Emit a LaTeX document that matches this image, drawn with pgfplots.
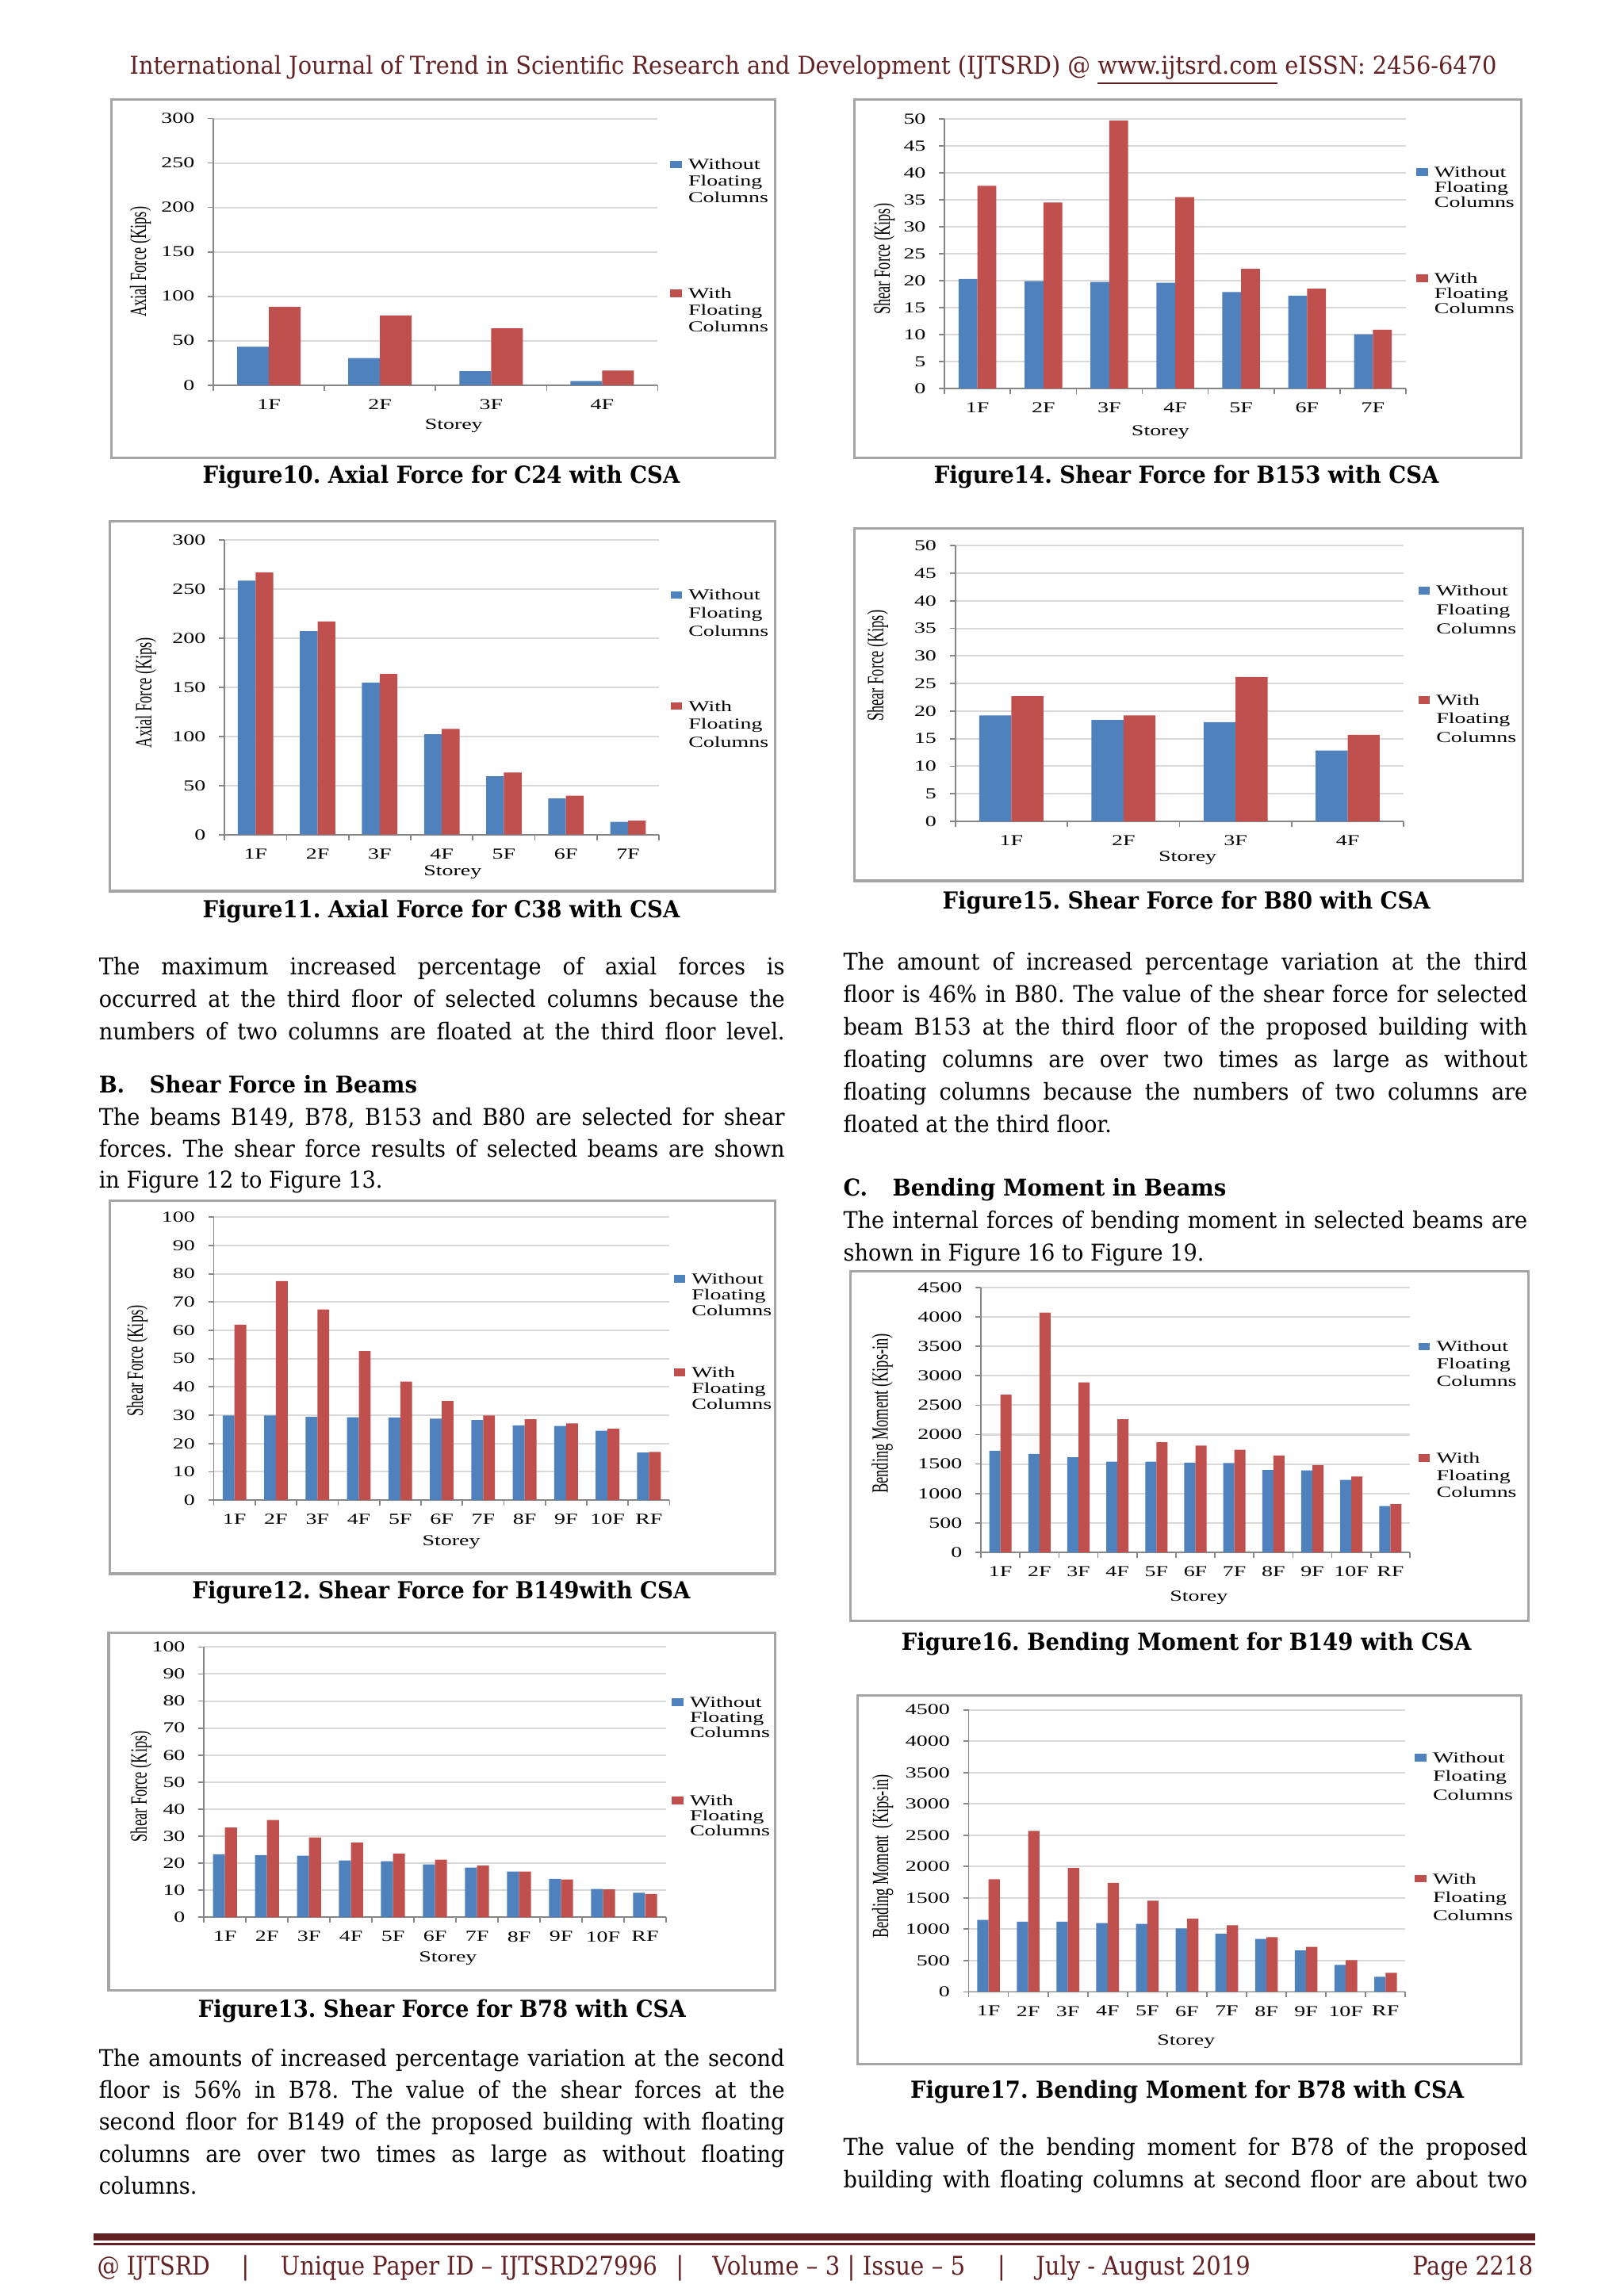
\documentclass[border=0pt]{standalone}
\usepackage{fontspec}
\setmainfont{DejaVu Serif}[FakeStretch=0.93]
\newfontfamily\chartfont[FakeStretch=1.45]{Liberation Serif}
\newfontfamily\ylabfont[FakeStretch=0.63]{Liberation Serif}
\usepackage{graphicx}
\usepackage{pgfplots}
\pgfplotsset{compat=1.18}
\frenchspacing

\definecolor{barblue}{RGB}{79,129,189}
\definecolor{barred}{RGB}{192,80,77}
\definecolor{gridgray}{RGB}{217,217,217}
\definecolor{axisgray}{RGB}{134,134,134}
\definecolor{framegray}{RGB}{165,165,165}
\definecolor{maroon}{RGB}{99,33,36}

\newcommand\bodyfont{\fontsize{8.5}{11.9}\selectfont}
\newcommand\capfont{\bfseries\fontsize{8.6}{10}\selectfont}
\newcommand\cfont{\chartfont\fontsize{5.6}{6.5}\selectfont}
\newlength\colL \setlength\colL{251.4pt}
\newlength\colR \setlength\colR{250.8pt}
\newcommand\lj[1]{\makebox[\colL][s]{#1}}
\newcommand\rj[1]{\makebox[\colR][s]{#1}}
\newcommand\legtxt[4]{\vtop{\baselineskip=#1\hbox{#2}\hbox{#3}\hbox{#4}}}

\pgfplotsset{
  fc/.style={
    scale only axis, ybar, ymin=0, xmin=0.5,
    axis x line*=bottom, axis y line*=left,
    x axis line style={draw=axisgray, line width=0.5pt, -},
    y axis line style={draw=axisgray, line width=0.5pt, -},
    ymajorgrids, major grid style={draw=gridgray, line width=0.6pt},
    tick align=outside, major tick length=2pt, minor tick length=2pt,
    tick style={draw=axisgray, line width=0.5pt},
    major x tick style={draw=none},
    ticklabel style={font=\cfont, inner sep=0pt},
    yticklabel style={/pgf/number format/1000 sep={}, /pgf/number format/assume math mode=true},
    xticklabel shift=3.0pt, yticklabel shift=4.7pt,
    xlabel={Storey},
    xlabel style={font=\cfont, anchor=center},
    ylabel style={font=\ylabfont\fontsize{8.5}{9.5}\selectfont, anchor=center},
    legend style={draw=none, fill=none, inner sep=0pt, outer sep=0pt,
      anchor=north west, column sep=2.4pt, font=\cfont,
      nodes={inner sep=0pt, anchor=base west}, cells={anchor=base west}},
  },
  bblue/.style={fill=barblue, draw=none, bar width=0.2857, bar shift=-0.1429,
    legend image code/.code={\fill[barblue] (0pt,0.5pt) rectangle (4.2pt,3.3pt);}},
  bred/.style={fill=barred, draw=none, bar width=0.2857, bar shift=0.1429,
    legend image code/.code={\fill[barred] (0pt,0.5pt) rectangle (4.2pt,3.3pt);}},
}

\begin{document}
\begin{tikzpicture}[x=0.53823pt, y=-0.53823pt]
\path[use as bounding box] (0,0) rectangle (1106,1564);
\fill[white] (0,0) rectangle (1106,1564);

% header
\node[anchor=base, inner sep=0pt, text=maroon, font=\fontsize{9}{10}\selectfont] at (553.9,50.4)
  {\resizebox{501.1pt}{\height}{International Journal of Trend in Scientific Research and Development (IJTSRD) @ \underline{www.ijtsrd.com} eISSN: 2456-6470}};

% chart frames
\begin{scope}[draw=framegray, line width=0.9pt]
\draw (76,68) rectangle (528,312);
\draw (582,68) rectangle (1036,312);
\draw (75,355) rectangle (528,607);
\draw (582,360) rectangle (1037,600);
\draw (75,818) rectangle (528,1072);
\draw (579,866) rectangle (1041,1104);
\draw (74,1112) rectangle (528,1356);
\draw (584,1155) rectangle (1036,1406);
\end{scope}

\coordinate (A10) at (145.3,262.3);
\coordinate (A14) at (643.3,264.6);
\coordinate (A11) at (152.9,568.5);
\coordinate (A15) at (650.6,559.5);
\coordinate (A12) at (145.6,1021.8);
\coordinate (A16) at (668.1,1057.4);
\coordinate (A13) at (138.9,1306.0);
\coordinate (A17) at (659.7,1356.8);

% Figure 10
\begin{axis}[fc, at={(A10)}, anchor=south west, width=162.9pt, height=97.7pt,
  xmax=4.5, xtick={1,...,4}, xticklabels={1F,2F,3F,4F}, minor xtick={0.5,1.5,...,4.5},
  ymax=300, ytick={0,50,...,300}, ylabel={Axial Force (Kips)},
  xlabel style={at={(axis description cs:0.541,-0.154)}},
  ylabel style={at={(axis description cs:-0.164,0.462)}},
  legend style={at={(1.0284,0.8484)}, row sep={47.3pt,between origins}}]
\addplot[bblue] coordinates {(1,43.2) (2,30.4) (3,15.8) (4,4.5)};
\addlegendentry{\legtxt{6.1pt}{Without}{Floating}{Columns}}
\addplot[bred] coordinates {(1,87.9) (2,78.3) (3,64.0) (4,16.4)};
\addlegendentry{\legtxt{6.1pt}{With}{Floating}{Columns}}
\end{axis}

% Figure 14
\begin{axis}[fc, at={(A14)}, anchor=south west, width=169.1pt, height=98.8pt,
  xmax=7.5, xtick={1,...,7}, xticklabels={1F,2F,3F,4F,5F,6F,7F}, minor xtick={0.5,1.5,...,7.5},
  ymax=50, ytick={0,5,...,50}, ylabel={Shear Force (Kips)},
  xlabel style={at={(axis description cs:0.468,-0.162)}},
  ylabel style={at={(axis description cs:-0.131,0.480)}},
  legend style={at={(1.0229,0.8234)}, row sep={38.9pt,between origins}}]
\addplot[bblue] coordinates {(1,20.3) (2,19.9) (3,19.75) (4,19.6) (5,17.9) (6,17.2) (7,10.05)};
\addlegendentry{\legtxt{5.6pt}{Without}{Floating}{Columns}}
\addplot[bred] coordinates {(1,37.6) (2,34.5) (3,49.7) (4,35.5) (5,22.2) (6,18.5) (7,10.9)};
\addlegendentry{\legtxt{5.6pt}{With}{Floating}{Columns}}
\end{axis}

% Figure 11
\begin{axis}[fc, at={(A11)}, anchor=south west, width=159.3pt, height=108.1pt,
  xmax=7.5, xtick={1,...,7}, xticklabels={1F,2F,3F,4F,5F,6F,7F}, minor xtick={0.5,1.5,...,7.5},
  ymax=300, ytick={0,50,...,300}, ylabel={Axial Force (Kips)},
  xlabel style={at={(axis description cs:0.525,-0.127)}},
  ylabel style={at={(axis description cs:-0.181,0.482)}},
  legend style={at={(1.0264,0.8311)}, row sep={40.7pt,between origins}}]
\addplot[bblue] coordinates {(1,258.3) (2,207.0) (3,154.6) (4,102.2) (5,59.4) (6,36.8) (7,12.9)};
\addlegendentry{\legtxt{6.6pt}{Without}{Floating}{Columns}}
\addplot[bred] coordinates {(1,266.7) (2,216.9) (3,163.4) (4,107.5) (5,63.2) (6,39.5) (7,14.2)};
\addlegendentry{\legtxt{6.6pt}{With}{Floating}{Columns}}
\end{axis}

% Figure 15
\begin{axis}[fc, at={(A15)}, anchor=south west, width=164.4pt, height=101.1pt,
  xmax=4.5, xtick={1,...,4}, xticklabels={1F,2F,3F,4F}, minor xtick={0.5,1.5,...,4.5},
  ymax=50, ytick={0,5,...,50}, ylabel={Shear Force (Kips)},
  xlabel style={at={(axis description cs:0.518,-0.134)}},
  ylabel style={at={(axis description cs:-0.173,0.564)}},
  legend style={at={(1.0324,0.8561)}, row sep={40.0pt,between origins}}]
\addplot[bblue] coordinates {(1,19.2) (2,18.4) (3,18.0) (4,12.85)};
\addlegendentry{\legtxt{6.9pt}{Without}{Floating}{Columns}}
\addplot[bred] coordinates {(1,22.7) (2,19.2) (3,26.2) (4,15.7)};
\addlegendentry{\legtxt{6.9pt}{With}{Floating}{Columns}}
\end{axis}

% Figure 12
\begin{axis}[fc, at={(A12)}, anchor=south west, width=167.1pt, height=103.7pt,
  xmax=11.5, xtick={1,...,11}, xticklabels={1F,2F,3F,4F,5F,6F,7F,8F,9F,10F,RF}, minor xtick={0.5,1.5,...,11.5},
  ymax=100, ytick={0,10,...,100}, ylabel={Shear Force (Kips)},
  xlabel style={at={(axis description cs:0.521,-0.148)}},
  ylabel style={at={(axis description cs:-0.168,0.492)}},
  legend style={at={(1.0090,0.8020)}, row sep={34.4pt,between origins}}]
\addplot[bblue] coordinates {(1,29.9) (2,29.9) (3,29.4) (4,29.25) (5,29.2) (6,28.8) (7,28.3) (8,26.4) (9,26.2) (10,24.5) (11,16.8)};
\addlegendentry{\legtxt{5.8pt}{Without}{Floating}{Columns}}
\addplot[bred] coordinates {(1,62.0) (2,77.4) (3,67.4) (4,52.7) (5,41.9) (6,35.0) (7,29.9) (8,28.6) (9,27.1) (10,25.2) (11,17.0)};
\addlegendentry{\legtxt{5.8pt}{With}{Floating}{Columns}}
\end{axis}

% Figure 16
\begin{axis}[fc, at={(A16)}, anchor=south west, width=157.2pt, height=97.1pt,
  xmax=11.5, xtick={1,...,11}, xticklabels={1F,2F,3F,4F,5F,6F,7F,8F,9F,10F,RF}, minor xtick={0.5,1.5,...,11.5},
  ymax=4500, ytick={0,500,...,4500}, ylabel={Bending Moment (Kips-in)},
  xlabel style={at={(axis description cs:0.508,-0.170)}},
  ylabel style={at={(axis description cs:-0.230,0.524)}},
  legend style={at={(1.0205,0.7976)}, row sep={40.8pt,between origins}}]
\addplot[bblue] coordinates {(1,1727) (2,1673) (3,1615) (4,1539) (5,1539) (6,1525) (7,1516) (8,1400) (9,1391) (10,1229) (11,785)};
\addlegendentry{\legtxt{6.35pt}{Without}{Floating}{Columns}}
\addplot[bred] coordinates {(1,2678) (2,4074) (3,2889) (4,2261) (5,1871) (6,1812) (7,1741) (8,1646) (9,1480) (10,1288) (11,821)};
\addlegendentry{\legtxt{6.35pt}{With}{Floating}{Columns}}
\end{axis}

% Figure 13
\begin{axis}[fc, at={(A13)}, anchor=south west, width=169.4pt, height=99.1pt,
  xmax=11.5, xtick={1,...,11}, xticklabels={1F,2F,3F,4F,5F,6F,7F,8F,9F,10F,RF}, minor xtick={0.5,1.5,...,11.5},
  ymax=100, ytick={0,10,...,100}, ylabel={Shear Force (Kips)},
  xlabel style={at={(axis description cs:0.528,-0.152)}},
  ylabel style={at={(axis description cs:-0.136,0.484)}},
  legend style={at={(1.0127,0.8162)}, row sep={36.1pt,between origins}}]
\addplot[bblue] coordinates {(1,23.3) (2,23.0) (3,22.8) (4,21.0) (5,20.7) (6,19.55) (7,18.4) (8,16.9) (9,14.2) (10,10.5) (11,9.1)};
\addlegendentry{\legtxt{5.5pt}{Without}{Floating}{Columns}}
\addplot[bred] coordinates {(1,33.2) (2,36.0) (3,29.5) (4,27.6) (5,23.5) (6,21.3) (7,19.1) (8,16.9) (9,14.0) (10,10.3) (11,8.6)};
\addlegendentry{\legtxt{5.5pt}{With}{Floating}{Columns}}
\end{axis}

% Figure 17
\begin{axis}[fc, at={(A17)}, anchor=south west, width=160.1pt, height=103.4pt,
  xmax=11.5, xtick={1,...,11}, xticklabels={1F,2F,3F,4F,5F,6F,7F,8F,9F,10F,RF}, minor xtick={0.5,1.5,...,11.5},
  ymax=4500, ytick={0,500,...,4500}, ylabel={Bending Moment\ \ (Kips-in)},
  xlabel style={at={(axis description cs:0.498,-0.176)}},
  ylabel style={at={(axis description cs:-0.197,0.480)}},
  legend style={at={(1.0218,0.8494)}, row sep={44.3pt,between origins}}]
\addplot[bblue] coordinates {(1,1147) (2,1118) (3,1118) (4,1097) (5,1084) (6,1012) (7,928) (8,844) (9,662) (10,430) (11,240)};
\addlegendentry{\legtxt{6.8pt}{Without}{Floating}{Columns}}
\addplot[bred] coordinates {(1,1797) (2,2569) (3,1978) (4,1738) (5,1455) (6,1168) (7,1063) (8,873) (9,717) (10,506) (11,304)};
\addlegendentry{\legtxt{6.8pt}{With}{Floating}{Columns}}
\end{axis}

% captions
\begin{scope}[every node/.style={anchor=base, inner sep=0pt, font=\capfont}]
\node at (300.5,329) {\resizebox{174.9pt}{\height}{Figure10. Axial Force for C24 with CSA}};
\node at (808,329) {\resizebox{185.1pt}{\height}{Figure14. Shear Force for B153 with CSA}};
\node at (300.5,625) {\resizebox{174.9pt}{\height}{Figure11. Axial Force for C38 with CSA}};
\node at (808,619) {\resizebox{178.7pt}{\height}{Figure15. Shear Force for B80 with CSA}};
\node at (300.5,1089) {\resizebox{182.5pt}{\height}{Figure12. Shear Force for B149with CSA}};
\node at (808,1124) {\resizebox{208.8pt}{\height}{Figure16. Bending Moment for B149 with CSA}};
\node at (301,1374) {\resizebox{178.7pt}{\height}{Figure13. Shear Force for B78 with CSA}};
\node at (808.5,1429) {\resizebox{202.9pt}{\height}{Figure17. Bending Moment for B78 with CSA}};
\end{scope}

% body text
\begin{scope}[every node/.style={anchor=base west, inner sep=0pt, font=\bodyfont}]
\node at (67,664.2) {\lj{The maximum increased percentage of axial forces is}};
\node at (67,686.3) {\lj{occurred at the third floor of selected columns because the}};
\node at (67,708.3) {\lj{numbers of two columns are floated at the third floor level.}};
\node[font=\bodyfont\bfseries] at (67,744.3) {B.};
\node[font=\bodyfont\bfseries] at (101.5,744.3) {\resizebox{98.1pt}{\height}{Shear Force in Beams}};
\node at (67,766.8) {\lj{The beams B149, B78, B153 and B80 are selected for shear}};
\node at (67,788.4) {\lj{forces. The shear force results of selected beams are shown}};
\node at (67,809.1) {in Figure 12 to Figure 13.};

\node at (574,660.6) {\rj{The amount of increased percentage variation at the third}};
\node at (574,682.8) {\rj{floor is 46\% in B80. The value of the shear force for selected}};
\node at (574,705.0) {\rj{beam B153 at the third floor of the proposed building with}};
\node at (574,727.2) {\rj{floating columns are over two times as large as without}};
\node at (574,749.4) {\rj{floating columns because the numbers of two columns are}};
\node at (574,771.6) {floated at the third floor.};
\node[font=\bodyfont\bfseries] at (574,814.5) {C.};
\node[font=\bodyfont\bfseries] at (607.5,814.5) {\resizebox{122.3pt}{\height}{Bending Moment in Beams}};
\node at (574,836.9) {\rj{The internal forces of bending moment in selected beams are}};
\node at (574,858.7) {shown in Figure 16 to Figure 19.};

\node at (67,1407.5) {\lj{The amounts of increased percentage variation at the second}};
\node at (67,1429.3) {\lj{floor is 56\% in B78. The value of the shear forces at the}};
\node at (67,1451.1) {\lj{second floor for B149 of the proposed building with floating}};
\node at (67,1472.9) {\lj{columns are over two times as large as without floating}};
\node at (67,1494.7) {columns.};

\node at (574,1468) {\rj{The value of the bending moment for B78 of the proposed}};
\node at (574,1490) {\rj{building with floating columns at second floor are about two}};
\end{scope}

% footer
\fill[maroon] (63.9,1521.1) rectangle (1045.8,1526.1);
\fill[maroon] (63.9,1527.9) rectangle (1045.8,1529.4);
\begin{scope}[every node/.style={anchor=base west, inner sep=0pt, text=maroon, font=\fontsize{9.4}{11}\selectfont}]
\node at (65.8,1549.5) {\resizebox{41.4pt}{\height}{@ IJTSRD}};
\node[anchor=base] at (167.1,1549.5) {|};
\node at (190.8,1549.5) {\resizebox{138.1pt}{\height}{Unique Paper ID – IJTSRD27996}};
\node[anchor=base] at (463.1,1549.5) {|};
\node at (484.8,1549.5) {\resizebox{92.7pt}{\height}{Volume – 3 | Issue – 5}};
\node[anchor=base] at (682.1,1549.5) {|};
\node at (705.1,1549.5) {\resizebox{78.6pt}{\height}{July - August 2019}};
\node at (961.6,1549.5) {\resizebox{44.2pt}{\height}{Page 2218}};
\end{scope}
\end{tikzpicture}
\end{document}
